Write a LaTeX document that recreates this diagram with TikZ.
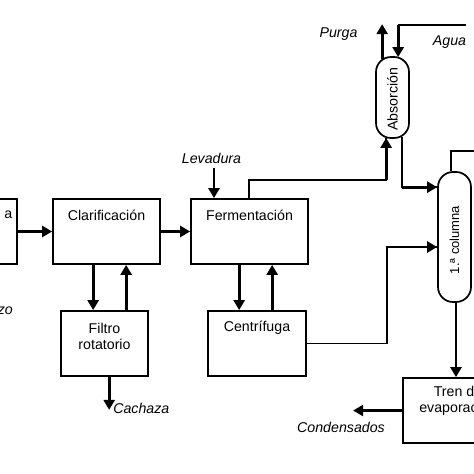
\documentclass[tikz,border=0pt]{standalone}
\usepackage{fontspec}
\setmainfont{Liberation Sans}
\usetikzlibrary{arrows.meta,calc}
\begin{document}
\begin{tikzpicture}[x=1pt,y=-1pt]
\tikzset{
 boxn/.style={draw,line width=1.7pt,inner sep=0pt,minimum height=65pt},
 capsule/.style={draw,line width=1.7pt,inner sep=0pt,minimum width=33pt,rounded corners=15pt},
 txt/.style={font=\fontsize{14.2}{16}\selectfont,inner sep=0pt,align=center},
 lab/.style={font=\fontsize{14.2}{16}\selectfont\itshape,inner sep=0pt},
 thk/.style={line width=2.7pt,-{Triangle[length=10pt,width=11pt]}},
 thkl/.style={line width=2.7pt},
 thn/.style={line width=1.6pt},
}
\useasboundingbox (0,0) rectangle (474,474);
\clip (0,0) rectangle (474,474);
% boxes
\node[boxn,minimum width=97pt] (mol) at (-31.5,231.5) {};
\node[txt,anchor=east] (molT) at (12.5,215) {a};
\node[boxn,minimum width=107pt] (clar) at (106.5,231.5) {};
\node[txt] (clarT) at (106.5,215) {Clarificación};
\node[boxn,minimum width=117pt] (ferm) at (249.5,231.5) {};
\node[txt] (fermT) at (249.5,215) {Fermentación};
\node[boxn,minimum width=87pt] (fil) at (104.5,343.5) {};
\node[txt] (filT) at (104.5,336) {Filtro\\rotatorio};
\node[boxn,minimum width=98pt] (cen) at (257,343.5) {};
\node[txt] (cenT) at (257,328) {Centrífuga};
\node[boxn,minimum width=110pt] (tren) at (458,410.5) {};
\node[txt] (trenT) at (458,401) {Tren de\\evaporación};
\node[capsule,minimum height=81pt] (abs) at (392.5,97.5) {};
\node[txt,rotate=90] (absT) at (392.5,99) {Absorción};
\node[capsule,minimum height=130pt] (col) at (454.5,237) {};
\node[txt,rotate=90,font=\fontsize{13}{15}\selectfont] (colT) at (454.5,240) {1.ª columna};
% labels
\node[lab] (lev) at (211.5,158) {Levadura};
\node[lab,anchor=east] (bag) at (13,311) {zo};
\node[lab] (purga) at (338.5,34) {Purga};
\node[lab] (agua) at (449.5,42) {Agua};
\node[lab] (condT) at (341,427.5) {Condensados};
% main line
\draw[thk] (mol.east) -- (clar.west);
\draw[thk] (clar.east) -- (ferm.west);
\coordinate (levA) at (214,168);
\draw[thk] (levA) -- (levA |- ferm.north);
% clarificacion <-> filtro
\coordinate (a1) at ($(clar.south west)+(41,0)$);
\draw[thk] (a1) -- (a1 |- fil.north);
\coordinate (a2) at ($(fil.north west)+(66,0)$);
\draw[thk] (a2) -- (a2 |- clar.south);
\coordinate (a3) at ($(fil.south west)+(49,0)$);
\coordinate (cach) at ($(a3)+(0,33)$);
\draw[thk] (a3) -- (cach);
\node[lab,anchor=west] (cachT) at ($(cach)+(4,-1)$) {Cachaza};
% fermentacion <-> centrifuga
\coordinate (b1) at ($(ferm.south west)+(49,0)$);
\draw[thk] (b1) -- (b1 |- cen.north);
\coordinate (b2) at ($(cen.north west)+(65,0)$);
\draw[thk] (b2) -- (b2 |- ferm.south);
% fermentacion -> absorcion
\coordinate (f1) at ($(ferm.north west)+(59,0)$);
\coordinate (f2) at ($(abs.south west)+(11,-1)$);
\draw[thn] (f1) -- ++(0,-18) coordinate (f1b) -| (f2);
\draw[thk] (f1b -| f2) -- (f2);
% absorcion -> columna
\coordinate (g1) at ($(abs.south east)+(-8,-2)$);
\coordinate (g2) at ($(col.north west)+(0,16)$);
\draw[thn] (g1) |- (g2);
\draw[thk] (g1 |- g2) -- (g2);
% centrifuga -> columna
\coordinate (h1) at ($(col.west)+(0,10)$);
\draw[thn] (cen.east) -- ++(80,0) coordinate (h0) |- (h1);
\draw[thk] (h0 |- h1) -- (h1);
% columna -> tren
\coordinate (k1) at ($(col.south)+(1.5,0)$);
\draw[thk] (k1) -- (k1 |- tren.north);
% tren -> condensados
\draw[thk] (tren.west) -- ++(-49,0) coordinate (cond);
% columna top
\coordinate (m1) at ($(col.north)+(-3.5,0)$);
\draw[thn] (m1) -- ++(0,-20) -- ++(40,0);
% purga
\coordinate (p1) at ($(abs.north west)+(7,3)$);
\draw[thk] (p1) -- ++(0,-35);
% agua
\coordinate (q1) at ($(abs.north west)+(23,1)$);
\coordinate (q0) at ($(q1)+(0,-32)$);
\draw[thn] ($(q0)+(68,0)$) -- (q0);
\draw[thk] (q0) -- (q1);
\end{tikzpicture}
\end{document}
